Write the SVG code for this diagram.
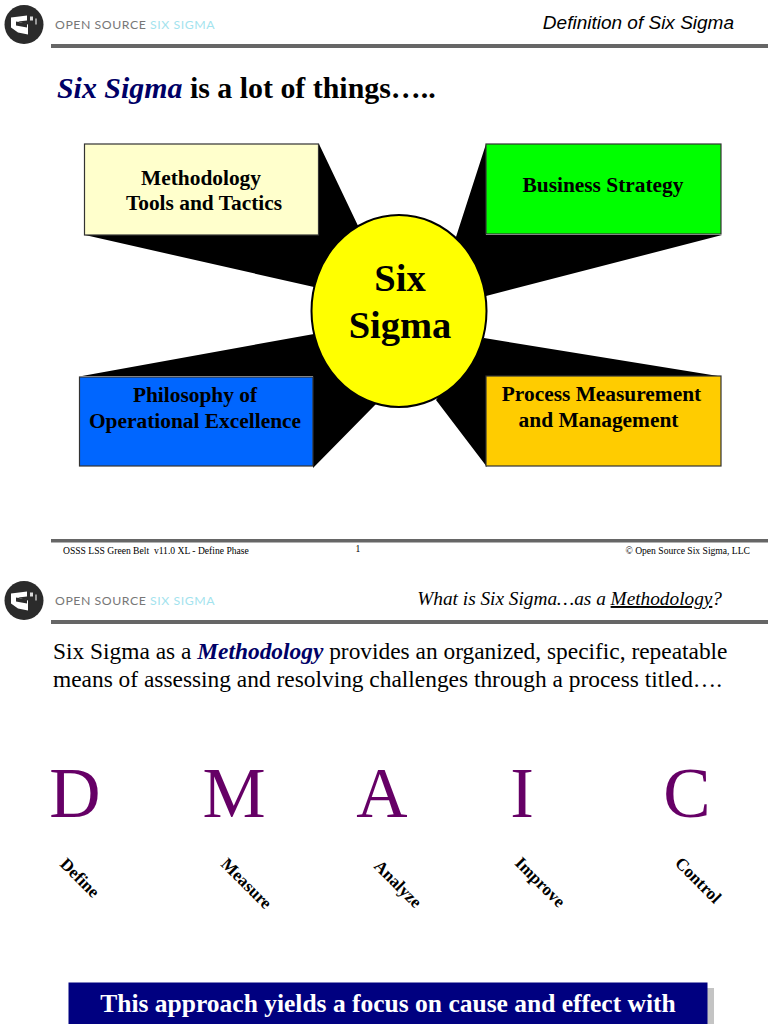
<svg xmlns="http://www.w3.org/2000/svg" width="768" height="1024" viewBox="0 0 768 1024">
<defs>
<style>
.s{font-family:"Liberation Serif","Times New Roman",serif}
.b{font-weight:bold}
.box{stroke:#333;stroke-width:1.2}
.lbl{font-family:"Liberation Serif",serif;font-weight:bold;font-size:21.4px;text-anchor:middle;fill:#000}
.rule{fill:#666}
.dm{font-family:"Liberation Serif",serif;font-size:71px;fill:#660066;text-anchor:middle}
.ph{font-family:"Liberation Serif",serif;font-weight:bold;font-size:17.2px;fill:#000}
.logo{font-family:"Lato","Open Sans",sans-serif;font-size:12.3px;letter-spacing:.55px}
</style>
<g id="logomark">
<circle cx="0" cy="0" r="19.5" fill="#2b2b2b"/>
<path d="M-13,-7 L3,-9 L3,-4 L-6,-3 L4,0 L4,10 L-6,8 L-13,3 Z" fill="#fff"/>
<path d="M-8,-3 L3,-1 L3,3 L-8,1 Z" fill="#2b2b2b"/>
<rect x="6" y="-8" width="3" height="4" fill="#ddd"/>
<rect x="11" y="-6" width="2" height="6" fill="#999"/>
</g>
</defs>
<rect width="768" height="1024" fill="#fff"/>

<g id="slide1-header">
<use href="#logomark" x="24" y="24.500"/>
<text class="logo" x="55" y="29" fill="#777">OPEN SOURCE <tspan fill="#a3e3ee">SIX SIGMA</tspan></text>
<text x="734" y="29" text-anchor="end" font-family="Liberation Sans,Arial,sans-serif" font-style="italic" font-size="19" fill="#000">Definition of Six Sigma</text>
<rect class="rule" x="51" y="44" width="717" height="4"/>
</g>
<text id="slide1-title" class="s b" x="57" y="98" font-size="29.900" fill="#000"><tspan fill="#000066" font-style="italic">Six Sigma</tspan> is a lot of things…..</text>

<g id="connectors" fill="#000">
<polygon points="85,235 314,287 360,230 319,144 318,235"/>
<polygon points="486,144 455,240 486,296 722,235 486,235"/>
<polygon points="82,376 314,334 376,404 313,468 313,376"/>
<polygon points="718,376 484,338 436,400 487,467 487,376"/>
</g>

<g id="node-methodology">
<rect class="box" x="84.500" y="144" width="234" height="91" fill="#ffffcc"/>
<text class="lbl" x="201" y="185">Methodology</text>
<text class="lbl" x="204" y="210">Tools and Tactics</text>
</g>
<g id="node-business">
<rect class="box" x="486" y="144" width="235" height="90" fill="#00ff00"/>
<text class="lbl" x="603" y="192">Business Strategy</text>
</g>
<g id="node-philosophy">
<rect class="box" x="79.500" y="377" width="233.500" height="89" fill="#0066ff"/>
<text class="lbl" x="195" y="402">Philosophy of</text>
<text class="lbl" x="195" y="428">Operational Excellence</text>
</g>
<g id="node-process">
<rect class="box" x="486" y="376" width="235" height="90" fill="#ffcc00"/>
<text class="lbl" x="601.500" y="401">Process Measurement</text>
<text class="lbl" x="598.500" y="427">and Management</text>
</g>
<g id="node-six-sigma">
<ellipse cx="399" cy="311" rx="87.500" ry="96" fill="#ffff00" stroke="#000" stroke-width="2"/>
<text class="s b" x="400" y="291" font-size="38.500" text-anchor="middle">Six</text>
<text class="s b" x="400" y="338" font-size="38.500" text-anchor="middle">Sigma</text>
</g>

<g id="slide1-footer">
<rect class="rule" x="51" y="539" width="717" height="3.500"/>
<text class="s" x="63" y="554" font-size="9.600" style="white-space:pre">OSSS LSS Green Belt  v11.0 XL - Define Phase</text>
<text class="s" x="358" y="552" font-size="9.600" text-anchor="middle">1</text>
<text class="s" x="750" y="554" font-size="9.600" text-anchor="end">© Open Source Six Sigma, LLC</text>
</g>

<g id="slide2-header">
<use href="#logomark" x="24" y="600.500"/>
<text class="logo" x="55" y="605" fill="#777">OPEN SOURCE <tspan fill="#a3e3ee">SIX SIGMA</tspan></text>
<text class="s" x="722" y="605" text-anchor="end" font-style="italic" font-size="19.300" fill="#000">What is Six Sigma…as a <tspan text-decoration="underline">Methodology</tspan>?</text>
<rect class="rule" x="51" y="620" width="717" height="4"/>
</g>

<g id="slide2-intro" class="s" font-size="23.400" fill="#000">
<text x="53" y="659">Six Sigma as a <tspan class="b" font-style="italic" fill="#000066">Methodology</tspan> provides an organized, specific, repeatable</text>
<text x="53" y="687">means of assessing and resolving challenges through a process titled….</text>
</g>

<g id="dmaic">
<text class="dm" x="75" y="817">D</text>
<text class="dm" x="234" y="817">M</text>
<text class="dm" x="382" y="817">A</text>
<text class="dm" x="522" y="817">I</text>
<text class="dm" x="687" y="817">C</text>
<text class="ph" transform="translate(59,865) rotate(45)">Define</text>
<text class="ph" transform="translate(220,865) rotate(45)">Measure</text>
<text class="ph" transform="translate(373,867) rotate(45)">Analyze</text>
<text class="ph" transform="translate(514,864) rotate(45)">Improve</text>
<text class="ph" transform="translate(674,864) rotate(45)">Control</text>
</g>

<g id="banner">
<rect x="72" y="988" width="642" height="36" fill="#c4c4c4"/>
<rect x="68.500" y="982.500" width="639" height="42" fill="#000080"/>
<text class="s b" x="388" y="1012" font-size="25.500" fill="#fff" text-anchor="middle">This approach yields a focus on cause and effect with</text>
</g>
</svg>
